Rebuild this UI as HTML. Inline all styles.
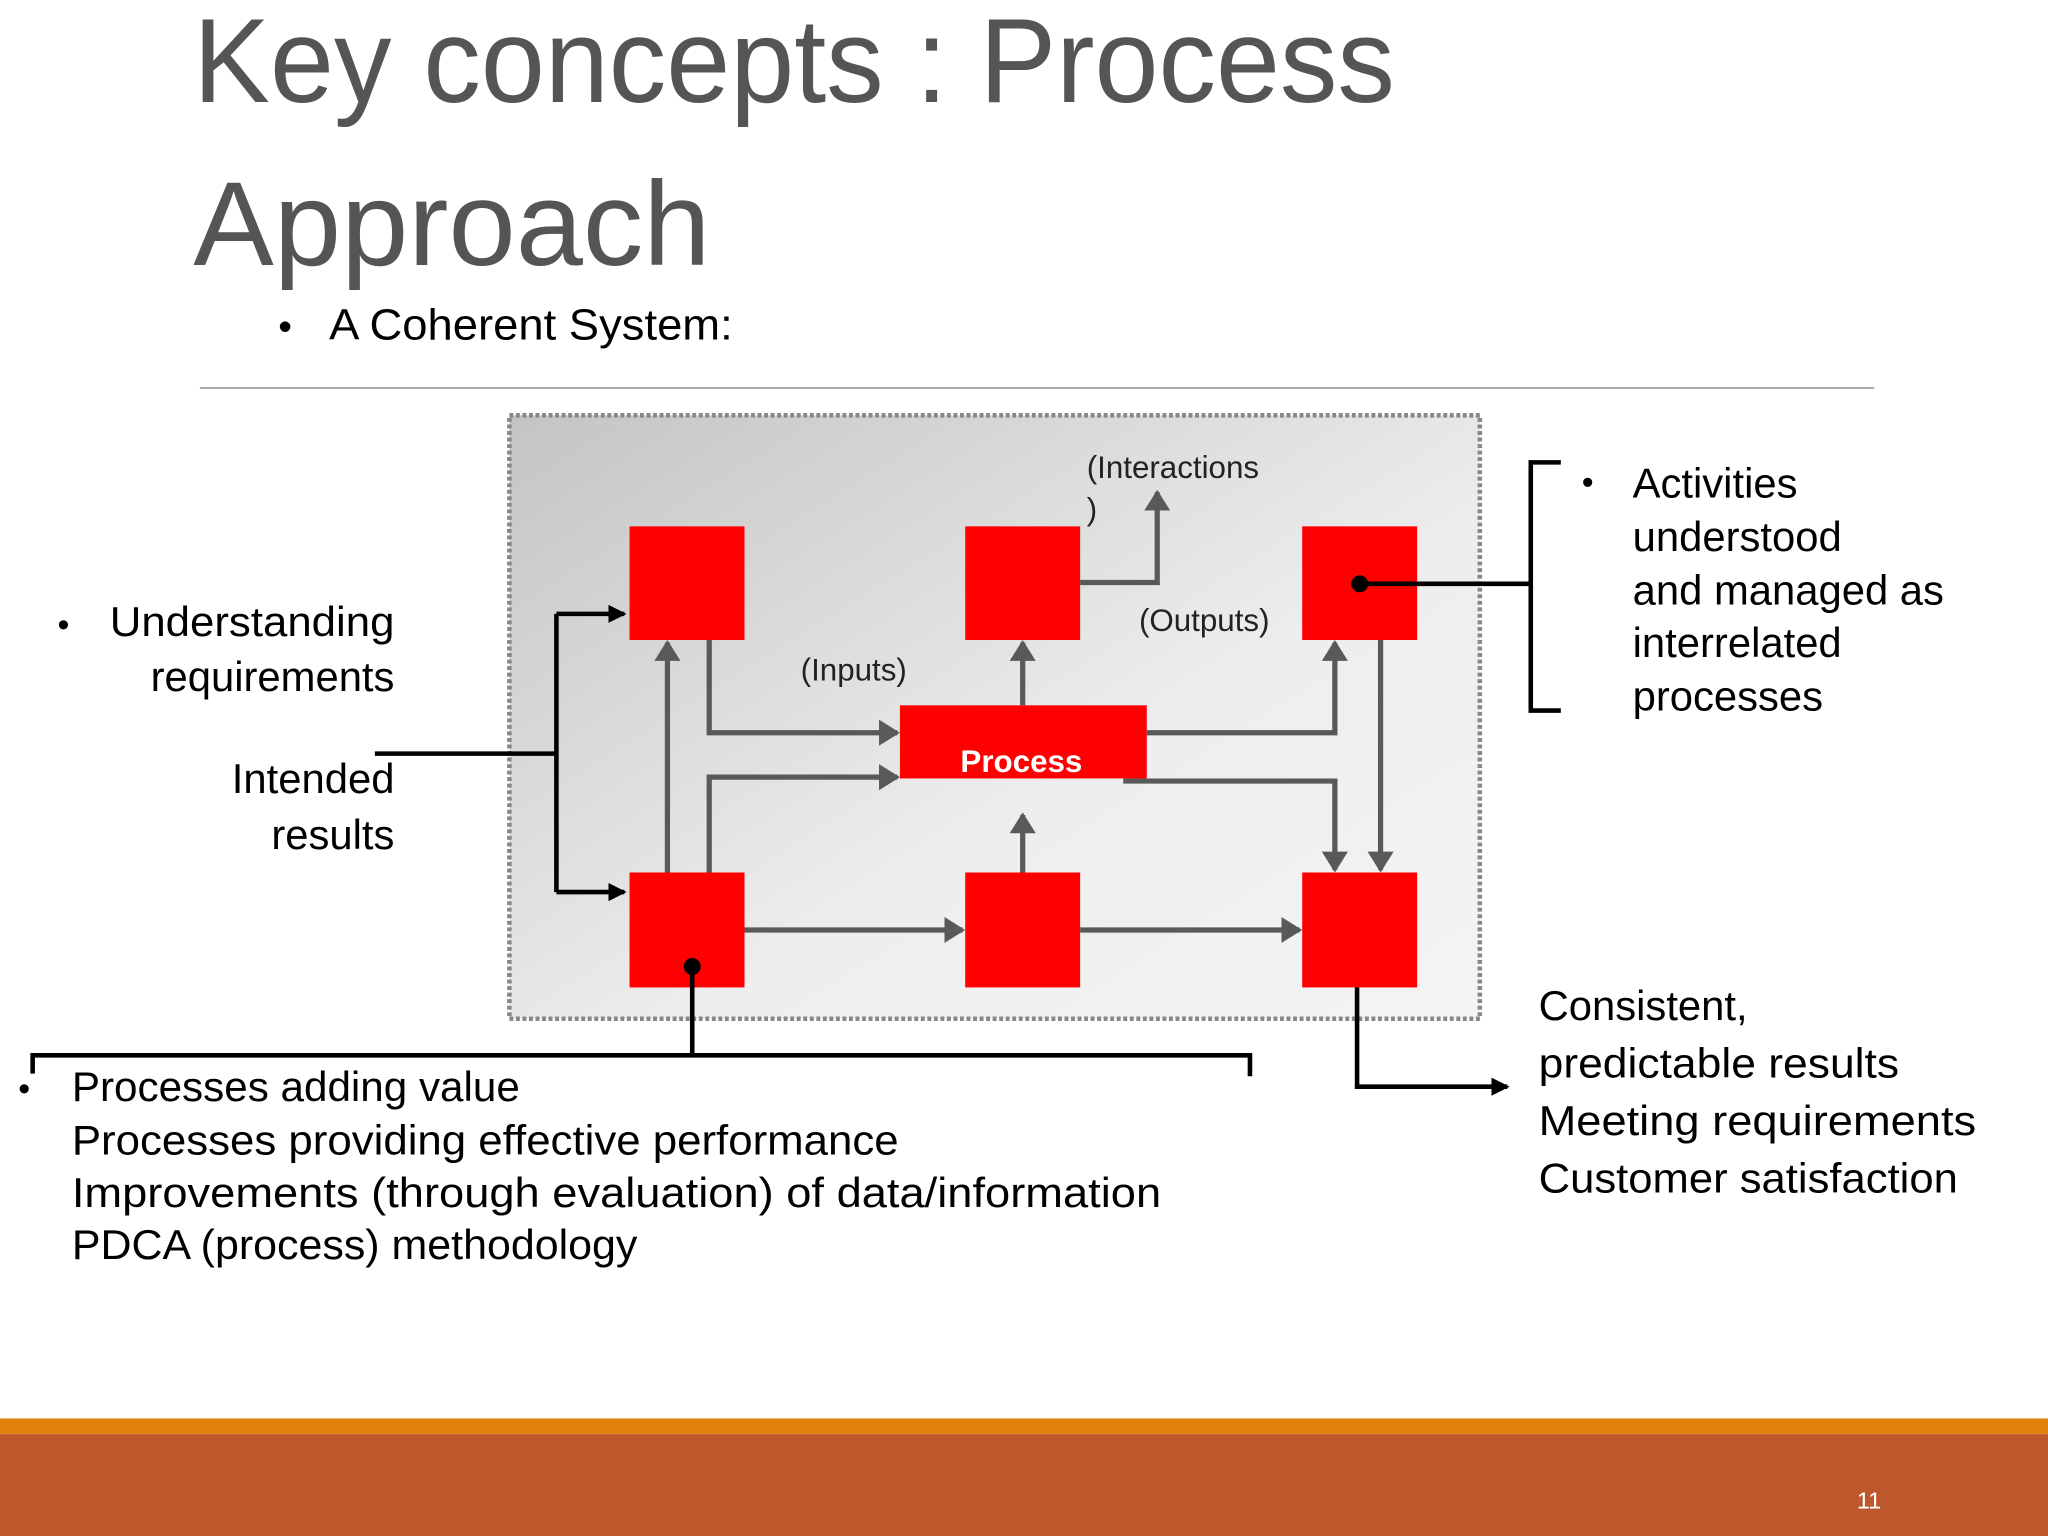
<!DOCTYPE html>
<html><head><meta charset="utf-8"><style>
html,body{margin:0;padding:0;background:#fff;}
svg{display:block;}
text{font-family:"Liberation Sans",sans-serif;}
</style></head><body>
<svg width="2048" height="1536" viewBox="0 0 1568 1176" xmlns="http://www.w3.org/2000/svg">
<defs>
<linearGradient id="bg" x1="0" y1="0" x2="1" y2="1">
<stop offset="0" stop-color="#c4c4c4"/><stop offset="0.6" stop-color="#eeeeee"/><stop offset="1" stop-color="#f4f4f4"/>
</linearGradient>
<marker id="ga" markerWidth="4" markerHeight="6" refX="3.5" refY="3" orient="auto" markerUnits="strokeWidth"><path d="M0,0.5 L4,3 L0,5.5 z" fill="#595959"/></marker>
<marker id="ba" markerWidth="4" markerHeight="4" refX="3.5" refY="2" orient="auto" markerUnits="strokeWidth"><path d="M0,0 L4,2 L0,4 z" fill="#000"/></marker>
</defs>
<rect width="1568" height="1176" fill="#fff"/>
<text x="148" y="78" font-size="92" fill="#555" textLength="920" lengthAdjust="spacingAndGlyphs">Key concepts : Process</text>
<text x="148" y="203" font-size="92" fill="#555" textLength="396" lengthAdjust="spacingAndGlyphs">Approach</text>
<text x="213" y="260" font-size="30" fill="#000">•</text>
<text x="252" y="260" font-size="33" fill="#000" textLength="309" lengthAdjust="spacingAndGlyphs">A Coherent System:</text>
<line x1="153" y1="297" x2="1435" y2="297" stroke="#a6a6a6" stroke-width="1.5"/>

<rect x="390" y="318" width="743" height="462" fill="url(#bg)" stroke="#888" stroke-width="3.5" stroke-dasharray="3,2"/>

<g fill="#ff0000">
<rect x="482" y="403" width="88" height="87"/><rect x="739" y="403" width="88" height="87"/><rect x="997" y="403" width="88" height="87"/>
<rect x="482" y="668" width="88" height="88"/><rect x="739" y="668" width="88" height="88"/><rect x="997" y="668" width="88" height="88"/>
<rect x="689" y="540" width="189" height="56"/>
</g>
<text x="782" y="591" font-size="24" font-weight="bold" fill="#fff" text-anchor="middle">Process</text>

<g stroke="#595959" stroke-width="4" fill="none" marker-end="url(#ga)">
<path d="M511,668 V492"/>
<path d="M543,490 V561 H687"/>
<path d="M543,668 V595 H687"/>
<path d="M783,540 V492"/>
<path d="M827,446 H886 V377"/>
<path d="M878,561 H1022 V492"/>
<path d="M860,598 H1022 V666"/>
<path d="M1057,490 V666"/>
<path d="M783,668 V624"/>
<path d="M570,712 H737"/>
<path d="M827,712 H995"/>
</g>

<text x="832" y="366" font-size="24" fill="#222">(Interactions</text>
<text x="832" y="398" font-size="24" fill="#222">)</text>
<text x="872" y="483" font-size="24" fill="#222">(Outputs)</text>
<text x="613" y="521" font-size="24" fill="#222">(Inputs)</text>

<g stroke="#000" stroke-width="3.5" fill="none">
<path d="M287,577 H426"/>
<path d="M426,470 V683"/>
<path d="M426,470 H478" marker-end="url(#ba)"/>
<path d="M426,683 H478" marker-end="url(#ba)"/>
<path d="M1041,447 H1172"/>
<path d="M1195,354 H1172 V544 H1195"/>
<path d="M530,740 V808"/>
<path d="M25,822 V808 H957 V824"/>
<path d="M1039,756 V832 H1154" marker-end="url(#ba)"/>
</g>
<circle cx="1041" cy="447" r="6.5" fill="#000"/>
<circle cx="530" cy="740" r="6.5" fill="#000"/>

<g font-size="32" fill="#000">
<text x="44" y="487" font-size="26">•</text>
<text x="84" y="487" textLength="218" lengthAdjust="spacingAndGlyphs">Understanding</text>
<text x="302" y="529" text-anchor="end">requirements</text>
<text x="302" y="607" text-anchor="end">Intended</text>
<text x="302" y="650" text-anchor="end">results</text>
<text x="1211" y="378" font-size="26">•</text>
<text x="1250" y="381">Activities</text>
<text x="1250" y="422">understood</text>
<text x="1250" y="463">and managed as</text>
<text x="1250" y="503">interrelated</text>
<text x="1250" y="544">processes</text>
<text x="1178" y="781">Consistent,</text>
<text x="1178" y="825" textLength="276" lengthAdjust="spacingAndGlyphs">predictable results</text>
<text x="1178" y="869" textLength="335" lengthAdjust="spacingAndGlyphs">Meeting requirements</text>
<text x="1178" y="913" textLength="321" lengthAdjust="spacingAndGlyphs">Customer satisfaction</text>
<text x="14" y="842" font-size="26">•</text>
<text x="55" y="843" textLength="343" lengthAdjust="spacingAndGlyphs">Processes adding value</text>
<text x="55" y="884" textLength="633" lengthAdjust="spacingAndGlyphs">Processes providing effective performance</text>
<text x="55" y="924" textLength="834" lengthAdjust="spacingAndGlyphs">Improvements (through evaluation) of data/information</text>
<text x="55" y="964" textLength="433" lengthAdjust="spacingAndGlyphs">PDCA (process) methodology</text>
</g>

<rect x="0" y="1086" width="1568" height="12" fill="#e3810f"/>
<rect x="0" y="1098" width="1568" height="78" fill="#bd582c"/>
<text x="1431" y="1155" font-size="18" fill="#fff" text-anchor="middle">11</text>
</svg>
</body></html>
